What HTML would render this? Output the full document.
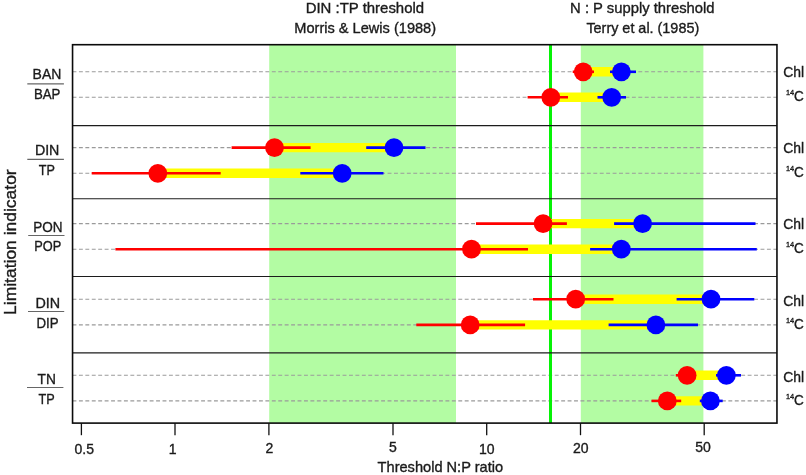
<!DOCTYPE html>
<html><head><meta charset="utf-8"><title>Threshold N:P ratio</title>
<style>html,body{margin:0;padding:0;background:#fff}svg{display:block}text{stroke:#1a1a1a;stroke-width:.35px;paint-order:stroke}</style></head>
<body>
<svg width="806" height="475" viewBox="0 0 806 475" font-family="'Liberation Sans', sans-serif" font-size="14.6" fill="#1a1a1a">
<rect width="806" height="475" fill="#fff"/>
<rect x="269.2" y="44.7" width="186.8" height="378.4" fill="#b3fca3"/>
<rect x="580.8" y="44.7" width="122.6" height="378.4" fill="#b3fca3"/>
<line x1="72.5" y1="71.8" x2="776.9" y2="71.8" stroke="#9a9a9a" stroke-width="1.1" stroke-dasharray="3.9 2.53"/>
<line x1="72.5" y1="97.3" x2="776.9" y2="97.3" stroke="#9a9a9a" stroke-width="1.1" stroke-dasharray="3.9 2.53"/>
<line x1="72.5" y1="147.6" x2="776.9" y2="147.6" stroke="#9a9a9a" stroke-width="1.1" stroke-dasharray="3.9 2.53"/>
<line x1="72.5" y1="173.3" x2="776.9" y2="173.3" stroke="#9a9a9a" stroke-width="1.1" stroke-dasharray="3.9 2.53"/>
<line x1="72.5" y1="223.6" x2="776.9" y2="223.6" stroke="#9a9a9a" stroke-width="1.1" stroke-dasharray="3.9 2.53"/>
<line x1="72.5" y1="249.2" x2="776.9" y2="249.2" stroke="#9a9a9a" stroke-width="1.1" stroke-dasharray="3.9 2.53"/>
<line x1="72.5" y1="299.2" x2="776.9" y2="299.2" stroke="#9a9a9a" stroke-width="1.1" stroke-dasharray="3.9 2.53"/>
<line x1="72.5" y1="324.9" x2="776.9" y2="324.9" stroke="#9a9a9a" stroke-width="1.1" stroke-dasharray="3.9 2.53"/>
<line x1="72.5" y1="375.3" x2="776.9" y2="375.3" stroke="#9a9a9a" stroke-width="1.1" stroke-dasharray="3.9 2.53"/>
<line x1="72.5" y1="400.9" x2="776.9" y2="400.9" stroke="#9a9a9a" stroke-width="1.1" stroke-dasharray="3.9 2.53"/>
<line x1="550.5" y1="44.7" x2="550.5" y2="423.1" stroke="#06f206" stroke-width="3"/>
<line x1="72.55" y1="125.7" x2="776.9" y2="125.7" stroke="#1c1c1c" stroke-width="1.2"/>
<line x1="72.55" y1="198.8" x2="776.9" y2="198.8" stroke="#1c1c1c" stroke-width="1.1"/>
<line x1="72.55" y1="276.5" x2="776.9" y2="276.5" stroke="#1c1c1c" stroke-width="1.0"/>
<line x1="72.55" y1="352.85" x2="776.9" y2="352.85" stroke="#1c1c1c" stroke-width="1.2"/>
<line x1="583.2" y1="71.8" x2="621.4" y2="71.8" stroke="#ff0" stroke-width="9.4"/>
<line x1="572.7" y1="71.8" x2="594.0" y2="71.8" stroke="#f00" stroke-width="2.6"/>
<line x1="610.0" y1="71.8" x2="636.0" y2="71.8" stroke="#00f" stroke-width="2.6"/>
<circle cx="583.2" cy="71.8" r="9.4" fill="#f00"/>
<circle cx="621.4" cy="71.8" r="9.4" fill="#00f"/>
<line x1="550.8" y1="97.3" x2="611.7" y2="97.3" stroke="#ff0" stroke-width="9.4"/>
<line x1="527.6" y1="97.3" x2="568.0" y2="97.3" stroke="#f00" stroke-width="2.6"/>
<line x1="597.5" y1="97.3" x2="626.0" y2="97.3" stroke="#00f" stroke-width="2.6"/>
<circle cx="550.8" cy="97.3" r="9.4" fill="#f00"/>
<circle cx="611.7" cy="97.3" r="9.4" fill="#00f"/>
<line x1="274.5" y1="147.6" x2="394.0" y2="147.6" stroke="#ff0" stroke-width="9.4"/>
<line x1="231.6" y1="147.6" x2="310.6" y2="147.6" stroke="#f00" stroke-width="2.6"/>
<line x1="366.2" y1="147.6" x2="425.5" y2="147.6" stroke="#00f" stroke-width="2.6"/>
<circle cx="274.5" cy="147.6" r="9.4" fill="#f00"/>
<circle cx="394.0" cy="147.6" r="9.4" fill="#00f"/>
<line x1="157.8" y1="173.3" x2="342.2" y2="173.3" stroke="#ff0" stroke-width="9.4"/>
<line x1="91.7" y1="173.3" x2="220.7" y2="173.3" stroke="#f00" stroke-width="2.6"/>
<line x1="300.3" y1="173.3" x2="383.5" y2="173.3" stroke="#00f" stroke-width="2.6"/>
<circle cx="157.8" cy="173.3" r="9.4" fill="#f00"/>
<circle cx="342.2" cy="173.3" r="9.4" fill="#00f"/>
<line x1="543.1" y1="223.6" x2="642.6" y2="223.6" stroke="#ff0" stroke-width="9.4"/>
<line x1="476.0" y1="223.6" x2="566.9" y2="223.6" stroke="#f00" stroke-width="2.6"/>
<line x1="614.1" y1="223.6" x2="755.5" y2="223.6" stroke="#00f" stroke-width="2.6"/>
<circle cx="543.1" cy="223.6" r="9.4" fill="#f00"/>
<circle cx="642.6" cy="223.6" r="9.4" fill="#00f"/>
<line x1="471.5" y1="249.2" x2="621.3" y2="249.2" stroke="#ff0" stroke-width="9.4"/>
<line x1="115.4" y1="249.2" x2="528.0" y2="249.2" stroke="#f00" stroke-width="2.6"/>
<line x1="590.1" y1="249.2" x2="756.8" y2="249.2" stroke="#00f" stroke-width="2.6"/>
<circle cx="471.5" cy="249.2" r="9.4" fill="#f00"/>
<circle cx="621.3" cy="249.2" r="9.4" fill="#00f"/>
<line x1="575.7" y1="299.2" x2="711.0" y2="299.2" stroke="#ff0" stroke-width="9.4"/>
<line x1="533.0" y1="299.2" x2="613.5" y2="299.2" stroke="#f00" stroke-width="2.6"/>
<line x1="676.6" y1="299.2" x2="754.3" y2="299.2" stroke="#00f" stroke-width="2.6"/>
<circle cx="575.7" cy="299.2" r="9.4" fill="#f00"/>
<circle cx="711.0" cy="299.2" r="9.4" fill="#00f"/>
<line x1="470.2" y1="324.9" x2="655.9" y2="324.9" stroke="#ff0" stroke-width="9.4"/>
<line x1="416.3" y1="324.9" x2="525.1" y2="324.9" stroke="#f00" stroke-width="2.6"/>
<line x1="608.6" y1="324.9" x2="698.0" y2="324.9" stroke="#00f" stroke-width="2.6"/>
<circle cx="470.2" cy="324.9" r="9.4" fill="#f00"/>
<circle cx="655.9" cy="324.9" r="9.4" fill="#00f"/>
<line x1="687.1" y1="375.3" x2="726.4" y2="375.3" stroke="#ff0" stroke-width="9.4"/>
<line x1="675.8" y1="375.3" x2="696.0" y2="375.3" stroke="#f00" stroke-width="2.6"/>
<line x1="716.0" y1="375.3" x2="741.0" y2="375.3" stroke="#00f" stroke-width="2.6"/>
<circle cx="687.1" cy="375.3" r="9.4" fill="#f00"/>
<circle cx="726.4" cy="375.3" r="9.4" fill="#00f"/>
<line x1="667.3" y1="400.9" x2="710.4" y2="400.9" stroke="#ff0" stroke-width="9.4"/>
<line x1="651.5" y1="400.9" x2="681.2" y2="400.9" stroke="#f00" stroke-width="2.6"/>
<line x1="699.8" y1="400.9" x2="722.7" y2="400.9" stroke="#00f" stroke-width="2.6"/>
<circle cx="667.3" cy="400.9" r="9.4" fill="#f00"/>
<circle cx="710.4" cy="400.9" r="9.4" fill="#00f"/>
<rect x="72.55" y="44.7" width="704.4" height="378.4" fill="none" stroke="#0a0a0a" stroke-width="1.6"/>
<line x1="81.4" y1="423.1" x2="81.4" y2="435.2" stroke="#111" stroke-width="1.3"/>
<text x="84.2" y="454.2" text-anchor="middle" font-size="14">0.5</text>
<line x1="175.0" y1="423.1" x2="175.0" y2="435.2" stroke="#111" stroke-width="1.3"/>
<text x="172.6" y="453.7" text-anchor="middle" font-size="14">1</text>
<line x1="268.9" y1="423.1" x2="268.9" y2="435.2" stroke="#111" stroke-width="1.3"/>
<text x="269.4" y="452.7" text-anchor="middle" font-size="14">2</text>
<line x1="393.0" y1="423.1" x2="393.0" y2="435.2" stroke="#111" stroke-width="1.3"/>
<text x="392.8" y="452.2" text-anchor="middle" font-size="14">5</text>
<line x1="486.7" y1="423.1" x2="486.7" y2="435.2" stroke="#111" stroke-width="1.3"/>
<text x="486.7" y="453.5" text-anchor="middle" font-size="14">10</text>
<line x1="580.5" y1="423.1" x2="580.5" y2="435.2" stroke="#111" stroke-width="1.3"/>
<text x="580.7" y="453.3" text-anchor="middle" font-size="14">20</text>
<line x1="704.2" y1="423.1" x2="704.2" y2="435.2" stroke="#111" stroke-width="1.3"/>
<text x="703.1" y="452.1" text-anchor="middle" font-size="14">50</text>
<text id="xl" x="377.6" y="471.9" textLength="125.5" lengthAdjust="spacingAndGlyphs">Threshold N:P ratio</text>
<text id="yl" transform="translate(15.6 314.9) rotate(-90)" font-size="17.2" textLength="145.6" lengthAdjust="spacingAndGlyphs">Limitation indicator</text>
<text x="305.7" y="13.1" textLength="118.4" lengthAdjust="spacingAndGlyphs">DIN :TP threshold</text>
<text x="294.3" y="33.1" textLength="141.8" lengthAdjust="spacingAndGlyphs">Morris &amp; Lewis (1988)</text>
<text x="570.1" y="13.1" textLength="144.5" lengthAdjust="spacingAndGlyphs">N : P supply threshold</text>
<text x="586.4" y="33.1" textLength="112.8" lengthAdjust="spacingAndGlyphs">Terry et al. (1985)</text>
<text x="32.6" y="79.0" textLength="28.7" lengthAdjust="spacingAndGlyphs">BAN</text>
<text x="33.9" y="98.9" textLength="26.5" lengthAdjust="spacingAndGlyphs">BAP</text>
<line x1="27.3" y1="83.9" x2="63.9" y2="83.9" stroke="#666" stroke-width="1.15"/>
<text x="34.9" y="154.6" textLength="24.5" lengthAdjust="spacingAndGlyphs">DIN</text>
<text x="38.7" y="174.6" textLength="16.1" lengthAdjust="spacingAndGlyphs">TP</text>
<line x1="27.3" y1="159.3" x2="63.9" y2="159.3" stroke="#666" stroke-width="1.15"/>
<text x="33.3" y="231.5" textLength="29.3" lengthAdjust="spacingAndGlyphs">PON</text>
<text x="34.3" y="250.9" textLength="27.0" lengthAdjust="spacingAndGlyphs">POP</text>
<line x1="28.2" y1="235.5" x2="64.5" y2="235.5" stroke="#666" stroke-width="1.15"/>
<text x="35.5" y="307.8" textLength="24.7" lengthAdjust="spacingAndGlyphs">DIN</text>
<text x="36.4" y="327.6" textLength="22.1" lengthAdjust="spacingAndGlyphs">DIP</text>
<line x1="28.0" y1="311.5" x2="64.2" y2="311.5" stroke="#666" stroke-width="1.15"/>
<text x="37.5" y="384.0" textLength="18.3" lengthAdjust="spacingAndGlyphs">TN</text>
<text x="38.4" y="404.0" textLength="16.2" lengthAdjust="spacingAndGlyphs">TP</text>
<line x1="27.0" y1="387.5" x2="63.4" y2="387.5" stroke="#666" stroke-width="1.15"/>
<text x="783.3" y="76.7" textLength="20.9" lengthAdjust="spacingAndGlyphs">Chl</text>
<text x="783.3" y="153.0" textLength="20.9" lengthAdjust="spacingAndGlyphs">Chl</text>
<text x="783.3" y="229.0" textLength="20.9" lengthAdjust="spacingAndGlyphs">Chl</text>
<text x="783.3" y="305.5" textLength="20.9" lengthAdjust="spacingAndGlyphs">Chl</text>
<text x="783.3" y="381.8" textLength="20.9" lengthAdjust="spacingAndGlyphs">Chl</text>
<text x="786.0" y="94.8" font-size="8.1" textLength="8.2" lengthAdjust="spacingAndGlyphs">14</text>
<text x="794.0" y="100.5" textLength="9.8" lengthAdjust="spacingAndGlyphs">C</text>
<text x="786.0" y="170.8" font-size="8.1" textLength="8.2" lengthAdjust="spacingAndGlyphs">14</text>
<text x="794.0" y="176.5" textLength="9.8" lengthAdjust="spacingAndGlyphs">C</text>
<text x="786.0" y="247.3" font-size="8.1" textLength="8.2" lengthAdjust="spacingAndGlyphs">14</text>
<text x="794.0" y="253.0" textLength="9.8" lengthAdjust="spacingAndGlyphs">C</text>
<text x="786.0" y="323.2" font-size="8.1" textLength="8.2" lengthAdjust="spacingAndGlyphs">14</text>
<text x="794.0" y="328.9" textLength="9.8" lengthAdjust="spacingAndGlyphs">C</text>
<text x="786.0" y="399.2" font-size="8.1" textLength="8.2" lengthAdjust="spacingAndGlyphs">14</text>
<text x="794.0" y="404.9" textLength="9.8" lengthAdjust="spacingAndGlyphs">C</text>
</svg>
</body></html>
